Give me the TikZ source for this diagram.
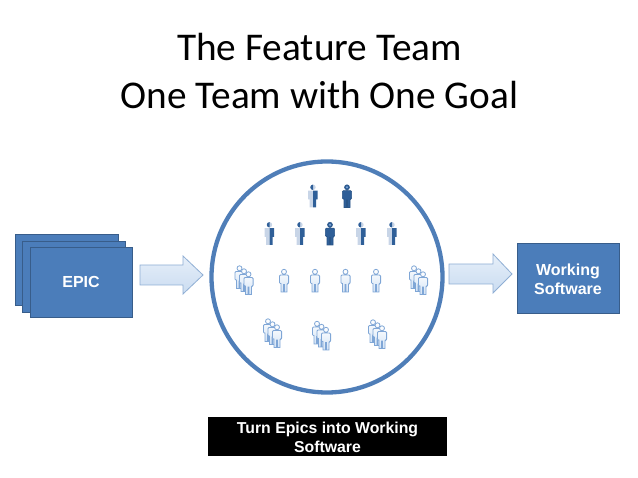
\documentclass[tikz,border=0pt]{standalone}
\usepackage{fontspec}
\setmainfont{Liberation Sans}
\newfontfamily\titlefont{Carlito}
\definecolor{boxblue}{HTML}{4B7DBA}
\definecolor{boxline}{HTML}{385D8A}
\definecolor{ringblue}{HTML}{4F7EB8}
\definecolor{arrowline}{HTML}{8FAED4}
\definecolor{arrowlight}{HTML}{E6EFF9}
\definecolor{arrowdeep}{HTML}{CADCF1}
\definecolor{guyline}{HTML}{7FA6D6}
\definecolor{guyfill}{HTML}{D3E3F5}
\definecolor{darkguy}{HTML}{2F5F98}
\definecolor{darkline}{HTML}{2A5587}
\definecolor{paleguy}{HTML}{C8D5E7}
\newcommand{\guybody}{(0,-8.7) circle (2.5)
  (-3,-5.4) -- (3,-5.4) [rounded corners=1pt] -- (4.6,-5.4) -- (4.6,3) -- (3,3) [sharp corners] -- (3,11.5) -- (0.5,11.5) -- (0.5,4) -- (-0.5,4) -- (-0.5,11.5) -- (-3,11.5) -- (-3,3) [rounded corners=1pt] -- (-4.6,3) -- (-4.6,-5.4) -- cycle}
\tikzset{
  x=1pt,y=-1pt,
  epicbox/.style={draw=boxline,line width=1pt,fill=boxblue},
  boxlabel/.style={text=white,font=\bfseries\fontsize{16}{19}\selectfont,align=center},
  blockarrow/.style={draw=arrowline,line width=0.8pt,top color=arrowlight,bottom color=arrowdeep},
  ring/.style={draw=ringblue,line width=4.3pt},
  captionbox/.style={fill=black,minimum width=239pt,minimum height=39pt,inner sep=0pt},
  captiontext/.style={text=white,font=\bfseries\fontsize{15.8}{19}\selectfont,align=center,inner sep=0pt},
  titletext/.style={font=\titlefont\fontsize{39.3}{48}\selectfont,align=center,text=black},
  plainguy/.pic={\draw[draw=guyline,line width=0.8pt,top color=white,bottom color=guyfill] \guybody;},
  solidguy/.pic={
    \draw[draw=darkline,line width=0.6pt,fill=darkguy] \guybody;
    \fill[guyline] (0,-8.7) circle (1.2);
  },
  halfguy/.pic={
    \fill[paleguy] (0,-8.7) circle (2.7) (-5,-5.4) rectangle (0,3.5) (-3.4,3.5) rectangle (0,11.5);
    \fill[darkguy] (0,-11.4) arc[start angle=-90,delta angle=-180,radius=2.7] -- cycle;
    \fill[darkguy] (0,-5.4) rectangle (4.6,3.5) (0,3.5) rectangle (3.2,11.5);
  },
  guygroup/.pic={
    \pic at (0,0) {plainguy};
    \pic at (4.5,3) {plainguy};
    \pic at (9,6) {plainguy};
  }
}
\begin{document}
\begin{tikzpicture}
\useasboundingbox (0,0) rectangle (638,478);
\node[titletext] (title) at (319.5,71.5) {The Feature Team\\One Team with One Goal};

\node[epicbox,minimum width=103pt,minimum height=71pt,inner sep=0pt,anchor=north west] (epicc) at (15,234) {};
\node[epicbox,minimum width=103pt,minimum height=71pt,inner sep=0pt,anchor=north west] (epicb) at (22,241) {};
\node[epicbox,minimum width=102pt,minimum height=70pt,inner sep=0pt,anchor=north west] (epica) at (30,247) {};
\node[boxlabel] (epiclabel) at (81,282) {EPIC};

\draw[blockarrow] (140,265) -- (183,265) -- (183,256) -- (203,275) -- (183,294) -- (183,285) -- (140,285) -- cycle;

\node[ring,circle,minimum size=231pt,inner sep=0pt] (team) at (327,277) {};

\pic at (313,196) {halfguy};
\pic at (347,196) {solidguy};
\pic at (269.5,233.5) {halfguy};
\pic at (300,233.5) {halfguy};
\pic at (330,233.5) {solidguy};
\pic at (361,233.5) {halfguy};
\pic at (392,233.5) {halfguy};

\pic at (284,280.5) {plainguy};
\pic at (315,280.5) {plainguy};
\pic at (345.5,280.5) {plainguy};
\pic at (376,280.5) {plainguy};
\pic at (239.5,277) {guygroup};
\pic at (414,277) {guygroup};
\pic at (268,330) {guygroup};
\pic at (317,332.5) {guygroup};
\pic at (373,331) {guygroup};

\draw[blockarrow] (449,264) -- (493,264) -- (493,254) -- (512,274) -- (493,293) -- (493,284) -- (449,284) -- cycle;

\node[epicbox,minimum width=102pt,minimum height=70pt,inner sep=0pt,anchor=north west] (software) at (517,243) {};
\node[boxlabel] (softwarelabel) at (568,279) {Working\\Software};

\node[captionbox] (goal) at (327.5,436.5) {};
\node[captiontext] (goaltext) at (327.5,437.5) {Turn Epics into Working\\Software};
\end{tikzpicture}
\end{document}
